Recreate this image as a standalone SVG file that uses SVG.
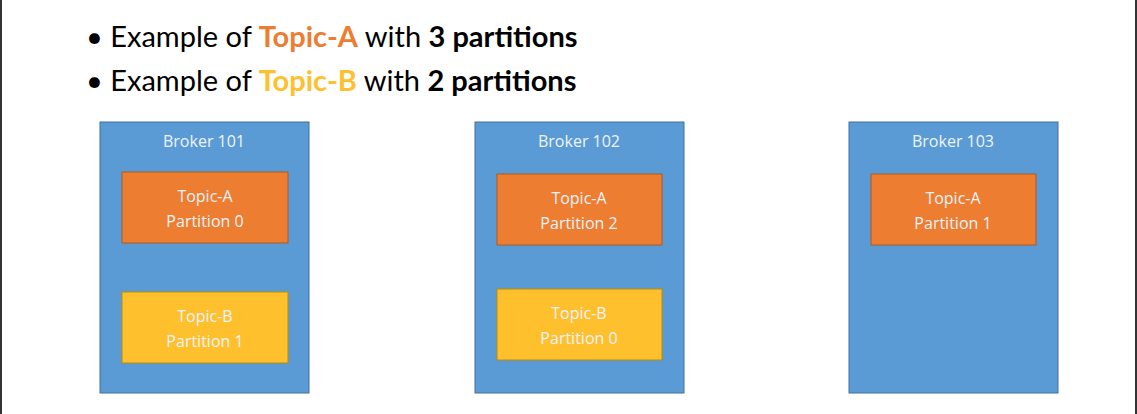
<svg xmlns="http://www.w3.org/2000/svg" width="1137" height="414" viewBox="0 0 1137 414">
<style>
.t{font-family:Lato,"Liberation Sans",sans-serif;font-size:29px;fill:#000}
.b{font-weight:bold}
.broker{fill:#5B9BD5;stroke:#41719C;stroke-width:1}
.pa{fill:#ED7D31;stroke:#AE5A21;stroke-width:1}
.pb{fill:#FFC02E;stroke:#BC8C00;stroke-width:1}
.l{font-family:"Open Sans","Liberation Sans",sans-serif;font-size:16px;fill:#EEF3FA;text-anchor:middle}
</style>
<rect width="1137" height="414" fill="#fff"/>
<rect x="0" y="0" width="2" height="414" fill="#333"/>
<rect x="1135" y="0" width="2" height="414" fill="#333"/>
<text class="t" x="86" y="47">• Example of <tspan class="b" fill="#ED7D31">Topic-A</tspan> with <tspan class="b">3 partitions</tspan></text>
<text class="t" x="86" y="91">• Example of <tspan class="b" fill="#FFC02E">Topic-B</tspan> with <tspan class="b">2 partitions</tspan></text>
<g id="broker101"><rect class="broker" x="100" y="122" width="209" height="271"/><text class="l" x="204" y="147">Broker 101</text></g>
<g id="b101-a0"><rect class="pa" x="122" y="172" width="166" height="71"/><text class="l" x="205" y="202">Topic-A</text><text class="l" x="205" y="227">Partition 0</text></g>
<g id="b101-b1"><rect class="pb" x="122" y="292" width="166" height="71"/><text class="l" x="205" y="322">Topic-B</text><text class="l" x="205" y="347">Partition 1</text></g>
<g id="broker102"><rect class="broker" x="475" y="122" width="209" height="271"/><text class="l" x="579" y="147">Broker 102</text></g>
<g id="b102-a2"><rect class="pa" x="497" y="174" width="165" height="71"/><text class="l" x="579" y="204">Topic-A</text><text class="l" x="579" y="229">Partition 2</text></g>
<g id="b102-b0"><rect class="pb" x="497" y="289" width="165" height="71"/><text class="l" x="579" y="319">Topic-B</text><text class="l" x="579" y="344">Partition 0</text></g>
<g id="broker103"><rect class="broker" x="849" y="122" width="209" height="271"/><text class="l" x="953" y="147">Broker 103</text></g>
<g id="b103-a1"><rect class="pa" x="871" y="174" width="165" height="71"/><text class="l" x="953" y="204">Topic-A</text><text class="l" x="953" y="229">Partition 1</text></g>
<g id="connectors"/>
</svg>
